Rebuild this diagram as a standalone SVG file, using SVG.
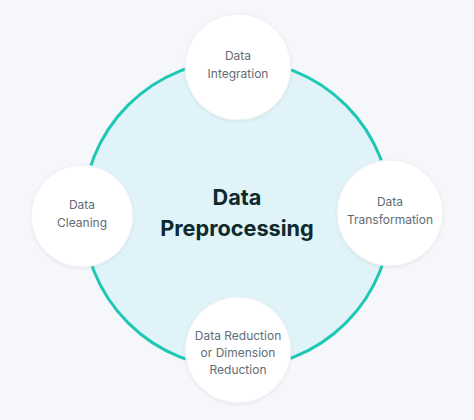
<svg xmlns="http://www.w3.org/2000/svg" width="474" height="420" viewBox="0 0 474 420">
<defs>
<filter id="sh" x="-20%" y="-20%" width="140%" height="140%">
<feDropShadow dx="0" dy="1" stdDeviation="1.5" flood-color="#000" flood-opacity="0.08"/>
</filter>
</defs>
<style>
.node{fill:#ffffff;stroke:#eef0f3;stroke-width:1;filter:url(#sh)}
.lbl{font-family:Inter,"Liberation Sans",sans-serif;font-size:12px;fill:#636c73;text-anchor:middle}
.title{font-family:Inter,"Liberation Sans",sans-serif;font-size:21.7px;font-weight:700;fill:#0e2a2c;text-anchor:middle}
</style>
<rect x="0" y="0" width="474" height="420" fill="#f6f7fb"/>
<g id="connectors">
<circle cx="237" cy="214" r="154" fill="#dff3f8" stroke="#1ec8b4" stroke-width="3"/>
</g>
<g id="center">
<text class="title" x="237" y="205">Data</text>
<text class="title" x="237" y="236">Preprocessing</text>
</g>
<g id="integration">
<circle class="node" cx="238" cy="67" r="53"/>
<text class="lbl" x="238" y="60">Data</text>
<text class="lbl" x="238" y="78">Integration</text>
</g>
<g id="cleaning">
<circle class="node" cx="82" cy="216" r="51"/>
<text class="lbl" x="82" y="209">Data</text>
<text class="lbl" x="82" y="227">Cleaning</text>
</g>
<g id="transformation">
<circle class="node" cx="390" cy="213" r="53"/>
<text class="lbl" x="390" y="206">Data</text>
<text class="lbl" x="390" y="224">Transformation</text>
</g>
<g id="reduction">
<circle class="node" cx="238" cy="350" r="53"/>
<text class="lbl" x="238" y="340">Data Reduction</text>
<text class="lbl" x="238" y="357">or Dimension</text>
<text class="lbl" x="238" y="374">Reduction</text>
</g>
</svg>
